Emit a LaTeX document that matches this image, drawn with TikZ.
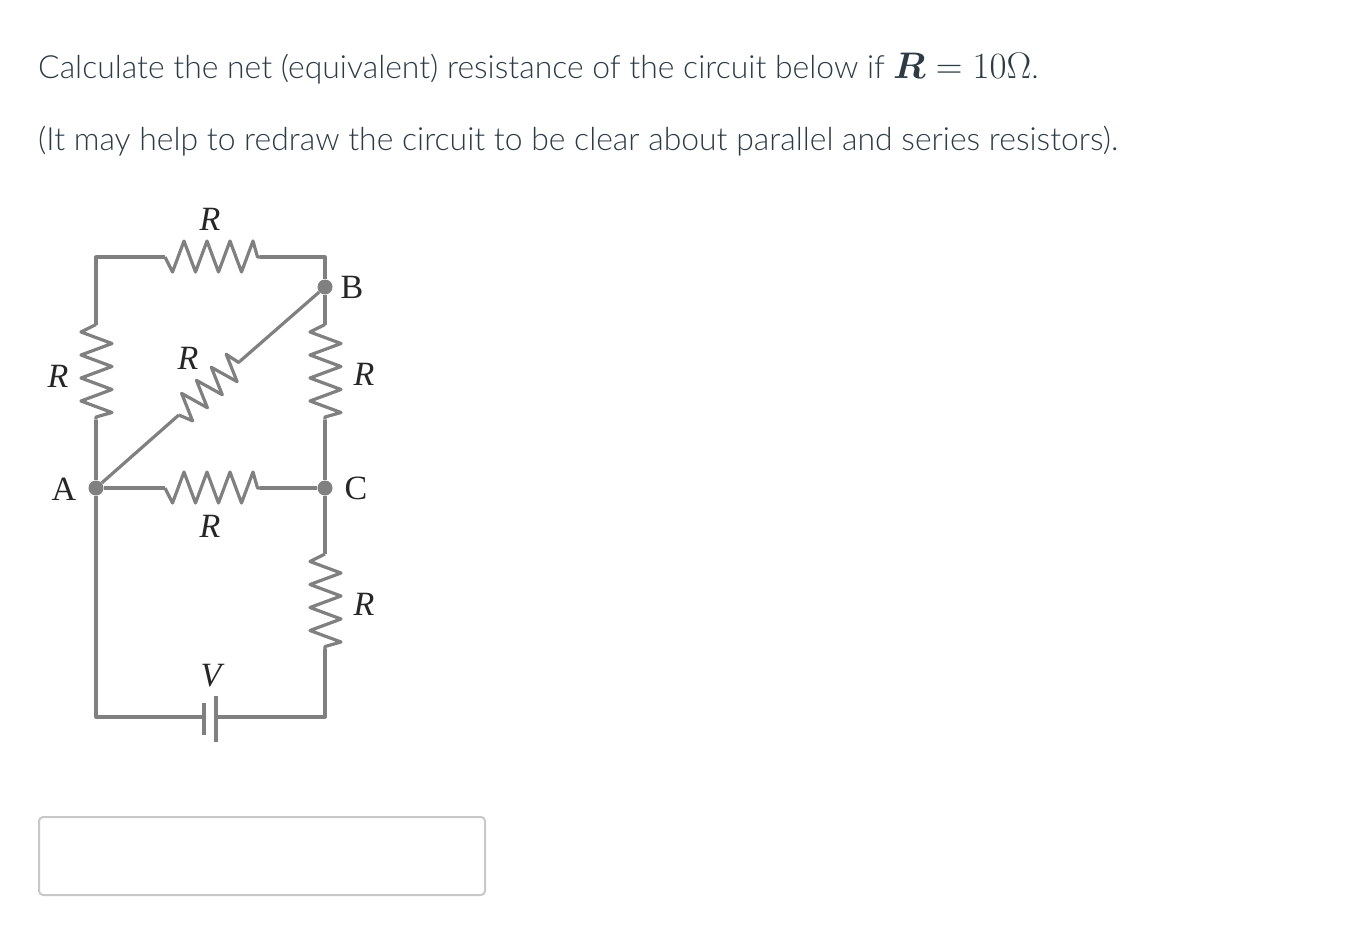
\documentclass[tikz,border=0pt]{standalone}
\usepackage{fix-cm}
\usepackage[no-math]{fontspec}
\usepackage{amsmath}
\setmainfont{Lato Light}
\newfontfamily\labelfont{Liberation Serif}
\definecolor{wiregray}{HTML}{808080}
\definecolor{slatetext}{HTML}{2D3B45}
\definecolor{boxgray}{HTML}{C8C8C8}
\newcommand{\mathsize}{\fontsize{37}{36}\selectfont}
\tikzset{
  wire/.style={draw=wiregray,line width=3.2pt,line join=round},
  resistor/.pic={
    \draw[wire] (-47.5,0) coordinate (-in) -- (-40,15) -- (-28.5,-16) -- (-17,15) -- (-5.5,-16)
      -- (6,15) -- (17.5,-16) -- (29,15) -- (40.5,-16) -- (45,0) -- (47.5,0) coordinate (-out);
  },
  joint/.style={circle,fill=wiregray,inner sep=0pt,minimum size=15pt},
  plate/.style={fill=wiregray,inner sep=0pt,minimum width=3.2pt},
  lab/.style={font=\labelfont\fontsize{34}{34}\selectfont,text=black!85,inner sep=0pt},
  line/.style={font=\fontsize{31.9}{36}\selectfont,text=slatetext,anchor=base west,inner sep=0pt},
}
\begin{document}
\begin{tikzpicture}[x=1pt,y=-1pt]
  \useasboundingbox (0,0) rectangle (1365,938);
  \node[line] (q1) at (38,78) {Calculate the net (equivalent) resistance of the circuit below if {\mathsize$\boldsymbol{R}=10\Omega$}.};
  \node[line] (q2) at (38,150) {(It may help to redraw the circuit to be clear about parallel and series resistors).};
  \draw
    (96,488) node[joint] (A){}
    (325,287) node[joint] (B){}
    (325,488) node[joint] (C){}
    (96,257) coordinate (tl)
    (325,257) coordinate (tr)
    (96,717) coordinate (bl)
    (325,717) coordinate (br);
  \node[plate,minimum height=32pt] (Vm) at (204,718.5) {};
  \node[plate,minimum height=46pt] (Vp) at (216,719) {};
  % resistors
  \pic (top) at (212.5,257) {resistor};
  \pic (mid) at (212.5,488) {resistor};
  \pic[rotate=-90] (lft) at (96,372) {resistor};
  \pic[rotate=-90] (upr) at (325,372) {resistor};
  \pic[rotate=-90] (lwr) at (325,601.5) {resistor};
  \pic[rotate=41.3,xscale=.86,yscale=.9] (dia) at (209.5,388) {resistor};
  \begin{scope}[-]
    \draw[wire] (A) to (lft-out);
    \draw[wire] (lft-in) to (tl) to (top-in);
    \draw[wire] (top-out) to (tr) to (B);
    \draw[wire] (B) to (upr-in);
    \draw[wire] (upr-out) to (C);
    \draw[wire] (C) to (lwr-in);
    \draw[wire] (lwr-out) to (br) to (br -| Vp);
    \draw[wire] (A) to (mid-in);
    \draw[wire] (mid-out) to (C);
    \draw[wire] (A) to (dia-in);
    \draw[wire] (dia-out) to (B);
    \draw[wire] (A) to (bl) to (bl -| Vm);
  \end{scope}
  \node[lab] (r1) at (210,219) {\itshape R};
  \node[lab] (r2) at (58,376) {\itshape R};
  \node[lab] (r3) at (188,358) {\itshape R};
  \node[lab] (r4) at (364,374) {\itshape R};
  \node[lab] (r5) at (210,526) {\itshape R};
  \node[lab] (r6) at (364,604) {\itshape R};
  \node[lab] (v) at (211,676) {\itshape V};
  \node[lab] (a) at (64,489) {A};
  \node[lab] (b) at (352,287) {B};
  \node[lab] (c) at (356,488) {C};
  \node[draw=boxgray,line width=2pt,rounded corners=4pt,minimum width=446pt,minimum height=78pt] (box) at (262,856) {};
\end{tikzpicture}
\end{document}
